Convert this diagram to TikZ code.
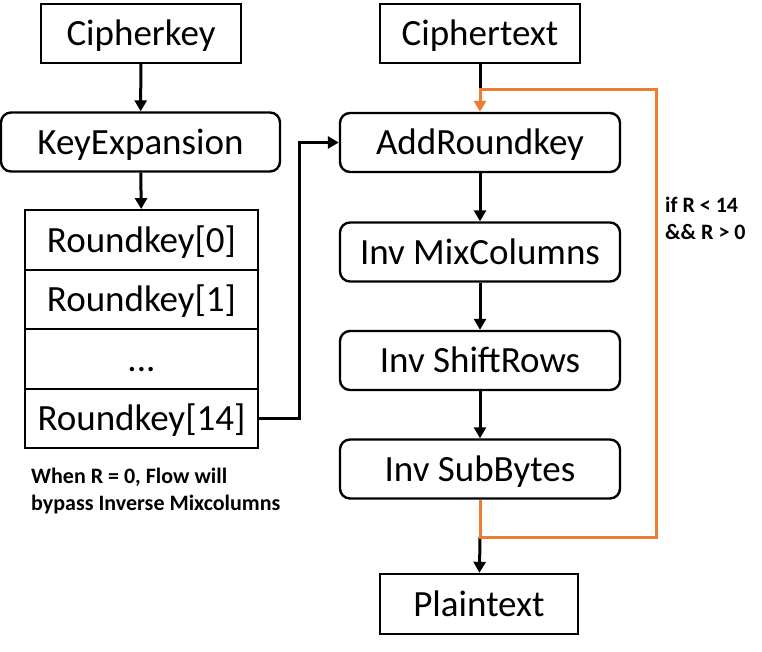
\documentclass[tikz,border=0pt]{standalone}
\usepackage{fontspec}
\setmainfont{Carlito}
\usepackage{xcolor}
\usetikzlibrary{arrows.meta}
\definecolor{loopor}{HTML}{ED7D31}
\newcommand\rkdots{...}
\tikzset{
  box/.style={draw, line width=2.4pt, minimum width=200pt, minimum height=59pt, inner sep=0pt, text height=24pt, text depth=0pt, font=\fontsize{37}{40}\selectfont},
  rbox/.style={box, rounded corners=10pt, minimum width=280pt},
  keyrow/.style={box, minimum width=233pt, minimum height=59.5pt},
  note/.style={align=left, inner sep=0pt, font=\fontsize{22}{27}\selectfont\bfseries},
  arr/.style={line width=3pt, -{Triangle[width=12pt,length=11pt]}},
  fb/.style={arr, draw=loopor}
}
\begin{document}
\begin{tikzpicture}[x=1pt, y=-1pt]
			\useasboundingbox (0,0) rectangle (762,651);
				\node[box] at (141, 33.5) (ck) {Cipherkey};
				\node[rbox, minimum width=279pt] at (140.5, 142) (ke) {KeyExpansion};
				\foreach \lbl [count=\i from 0] in {Roundkey[0], Roundkey[1], \rkdots, Roundkey[14]}
				  \node[keyrow] at (141.5, 240 + 59.5*\i) (rk\i) {\lbl};
				\node[box] at (480, 33.5) (ct) {Ciphertext};
				\node[rbox] at (480, 142.5) (ark) {AddRoundkey};
				\node[rbox] at (480, 252) (mc) {Inv MixColumns};
				\node[rbox] at (480, 360.5) (sr) {Inv ShiftRows};
				\node[rbox] at (480, 469) (sb) {Inv SubBytes};
				\node[box, minimum width=198pt, minimum height=60pt] at (479, 604) (pt) {Plaintext};
				\coordinate (jn) at (480, 89);
				\coordinate (out) at (480, 537);
				\coordinate (rt) at (656, 89);
				\node[note, anchor=north west] at (31, 468) (w) {When R = 0, Flow will\\bypass Inverse Mixcolumns};
				\node[note, anchor=north west] at (665, 197) (cond) {if R < 14\\\&\& R > 0};
				\draw[arr] (ck) -- (ke);
				\draw[arr] (ke) -- (rk0);
				\draw[arr] (rk3.east) -- ++(40,0) |- (ark.west);
				\draw[line width=3pt] (ct) -- (jn);
				\draw[arr] (ark) -- (mc);
				\draw[arr] (mc) -- (sr);
				\draw[arr] (sr) -- (sb);
				\draw[arr] (out) -- (pt);
				\draw[fb] (sb.south) -- (out) -| (rt) -| (ark.north);
		\end{tikzpicture}
\end{document}
